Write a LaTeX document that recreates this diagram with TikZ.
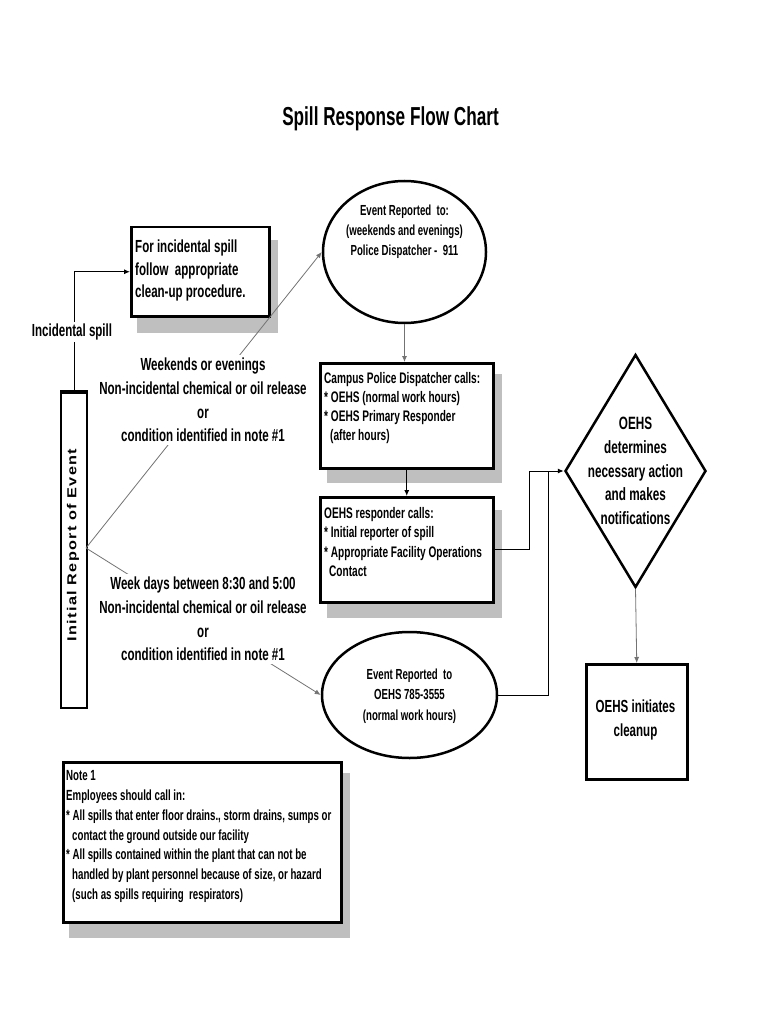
\documentclass[tikz,border=0pt]{standalone}
\usepackage{fontspec}
\setmainfont{Liberation Sans}[FakeStretch=0.66]
\newfontfamily\widefont{Liberation Sans}[FakeStretch=1.25,LetterSpace=10]
\usetikzlibrary{shapes.geometric,arrows.meta}
\begin{document}
\begin{tikzpicture}[x=1pt,y=-1pt,
  box/.style={draw=black, line width=2.5pt, fill=white, inner sep=0pt},
  shadowbox/.style={fill=black!25, draw=none, inner sep=0pt},
  txt/.style={align=left, inner sep=0pt},
  ctxt/.style={align=center, inner sep=0pt},
  thinline/.style={draw=black!55, line width=0.8pt},
  blk/.style={draw=black, line width=1pt},
  tip/.style={-{Latex[length=6pt,width=5pt]}},
]
\useasboundingbox (0,0) rectangle (768,1024);
\fill[white] (0,0) rectangle (768,1024);

% title
\node[ctxt, font={\bfseries\fontsize{26}{30}\selectfont}] (title) at (390.5,119) {Spill Response Flow Chart};

% box 1
\node[shadowbox, minimum width=141, minimum height=93, anchor=north west] (b1s) at (137,240) {};
\node[box, minimum width=138, minimum height=89, anchor=north west] (b1) at (130,226) {};
\node[txt, anchor=west, font={\bfseries\fontsize{17.5}{22.5}\selectfont}] (b1t) at (135,270.5) {For incidental spill\\follow\ \ appropriate\\clean-up procedure.};

% ellipse 1
\node[draw, ellipse, line width=2.5pt, fill=white, minimum width=163, minimum height=142, inner sep=0pt] (e1) at (404.5,252) {};
\node[ctxt, font={\bfseries\fontsize{14.6}{20}\selectfont}] (e1t) at (404.5,232) {Event Reported\ \ to:\\(weekends and evenings)\\Police Dispatcher -\ \ 911};

% box 2
\node[shadowbox, minimum width=175, minimum height=109, anchor=north west] (b2s) at (327,374) {};
\node[box, minimum width=173, minimum height=105, anchor=north west] (b2) at (319,362) {};
\node[txt, anchor=west, font={\bfseries\fontsize{15.3}{19.3}\selectfont}] (b2t) at (324,408) {Campus Police Dispatcher calls:\\* OEHS (normal work hours)\\* OEHS Primary Responder\\\hspace*{6pt}(after hours)};

% box 3
\node[shadowbox, minimum width=175, minimum height=108, anchor=north west] (b3s) at (327,510) {};
\node[box, minimum width=173, minimum height=105, anchor=north west] (b3) at (319,496) {};
\node[txt, anchor=west, font={\bfseries\fontsize{15.3}{19.3}\selectfont}] (b3t) at (324,542) {OEHS responder calls:\\* Initial reporter of spill\\* Appropriate Facility Operations\\\hspace*{5pt}Contact};

% ellipse 2
\node[draw, ellipse, line width=2.5pt, fill=white, minimum width=175, minimum height=126, inner sep=0pt] (e2) at (409.5,695) {};
\node[ctxt, font={\bfseries\fontsize{14.6}{20.5}\selectfont}] (e2t) at (409.5,696) {Event Reported\ \ to\\OEHS 785-3555\\(normal work hours)};

% diamond
\node[draw, diamond, line width=2.5pt, fill=white, minimum width=141, minimum height=233, inner sep=0pt] (dia) at (635.5,471) {};
\node[ctxt, font={\bfseries\fontsize{17.8}{23.75}\selectfont}] (diat) at (635.5,471) {OEHS\\determines\\necessary action\\and makes\\notifications};

% box 4
\node[box, minimum width=101, minimum height=115, anchor=north west] (b4) at (585,663) {};
\node[ctxt, font={\bfseries\fontsize{17.5}{24}\selectfont}] (b4t) at (635.5,720) {OEHS initiates\\cleanup};

% note box
\node[shadowbox, minimum width=281, minimum height=165, anchor=north west] (ns) at (69,773) {};
\node[box, minimum width=278, minimum height=160, anchor=north west] (note) at (62,761) {};
\node[txt, anchor=west, font={\bfseries\fontsize{14.7}{19.8}\selectfont}] (notet) at (66,836.5) {Note 1\\Employees should call in:\\* All spills that enter floor drains., storm drains, sumps or\\\hspace*{6pt}contact the ground outside our facility\\* All spills contained within the plant that can not be\\\hspace*{6pt}handled by plant personnel because of size, or hazard\\\hspace*{6pt}(such as spills requiring\ \ respirators)};

% vertical box
\node[draw=black, line width=2pt, fill=white, minimum width=26, minimum height=315, inner sep=0pt, anchor=north west] (vb) at (60,392) {};
\draw[line width=4pt] (vb.north west) -- (vb.north east);
\node[rotate=90, inner sep=0pt, font={\widefont\bfseries\fontsize{13}{15}\selectfont}] (vbt) at (73,545) {Initial Report of Event};

% connectors
\coordinate (fork) at (86,548);
\coordinate (jx1) at (529,0);
\coordinate (jx2) at (548,0);

\draw[blk, tip] (vb.north) |- (b1.west);
\node[ctxt, fill=white, inner sep=2pt, font={\bfseries\fontsize{17.5}{20}\selectfont}] (lab0) at (72,332) {Incidental spill};

\draw[thinline, tip] (fork) -- (e1.west);
\node[ctxt, fill=white, inner sep=3pt, font={\bfseries\fontsize{17.5}{23.7}\selectfont}] (lab1) at (203,400) {Weekends or evenings\\Non-incidental chemical or oil release\\or\\condition identified in note \#1};

\draw[thinline, tip] (fork) -- (e2.west);
\node[ctxt, fill=white, inner sep=3pt, font={\bfseries\fontsize{17.5}{23.7}\selectfont}] (lab2) at (203,619) {Week days between 8:30 and 5:00\\Non-incidental chemical or oil release\\or\\condition identified in note \#1};

\draw[thinline, tip] (e1.south) -- (e1.south |- b2.north);
\draw[blk, tip] (b2.south) -- (b3.north);
\draw[blk, tip] (b3.east) -| (jx1 |- dia.west) -- (dia.west);
\draw[blk] (e2.east) -| (jx2 |- dia.west);
\draw[thinline, tip] (dia.south) -- (b4.north);
\end{tikzpicture}
\end{document}
